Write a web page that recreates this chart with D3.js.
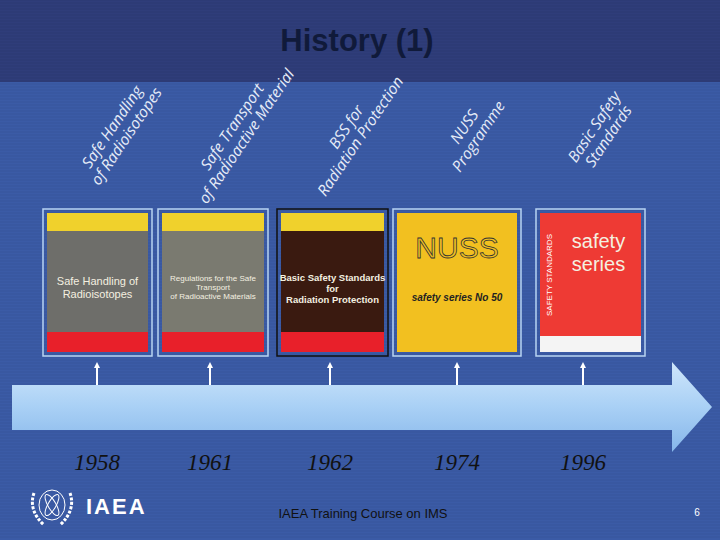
<!DOCTYPE html>
<html><head><meta charset="utf-8">
<script src="https://cdn.jsdelivr.net/npm/d3@7"></script>
<style>body{margin:0}svg{display:block}</style>
</head><body>
<svg width="720" height="540"></svg>
<script>
const years = ['1958', '1961', '1962', '1974', '1996'];
const labels = [
  ['Safe Handling', 'of Radioisotopes'],
  ['Safe Transport', 'of Radioactive Material'],
  ['BSS for', 'Radiation Protection'],
  ['NUSS', 'Programme'],
  ['Basic Safety', 'Standards']
];
const coverTitles = [
  ['Safe Handling of', 'Radioisotopes'],
  ['Regulations for the Safe', 'Transport', 'of Radioactive Materials'],
  ['Basic Safety Standards', 'for', 'Radiation Protection'],
  ['NUSS'],
  ['safety', 'series']
];
const coverBody = ['#6e6e6a', '#7a7a70', '#3a1a10', '#f2c020', '#ee3a34'];

let svg = d3.select('svg');
let defs = svg.append('defs');
let bar = defs.append('linearGradient').attr('id', 'bar').attr('x1', 0).attr('x2', 0).attr('y1', 0).attr('y2', 1);
bar.append('stop').attr('offset', 0).attr('stop-color', '#cfe6fb');
bar.append('stop').attr('offset', 0.5).attr('stop-color', '#a9d0f5');
bar.append('stop').attr('offset', 1).attr('stop-color', '#86b6ea');

svg.append('rect').attr('width', 720).attr('height', 540).attr('fill', '#3b5ba6');
svg.append('rect').attr('width', 720).attr('height', 82).attr('fill', '#2f3d7a');
// stripes
svg.append('g').selectAll('line').data(d3.range(0, 540, 3)).join('line')
  .attr('x1', 0).attr('x2', 720).attr('y1', d => d).attr('y2', d => d)
  .attr('stroke', '#000').attr('stroke-opacity', 0.06);

svg.append('text').attr('x', 357).attr('y', 51).attr('text-anchor', 'middle')
  .attr('font-family', 'Liberation Sans, Arial').attr('font-weight', 'bold')
  .attr('font-size', 31).attr('fill', '#101a3a').text('History (1)');

// timeline slots are not evenly spaced in the slide
let x = d3.scaleOrdinal().domain(years).range([97, 210, 330, 457, 583]);
const lblX = [120, 240, 354, 472, 602];
const bookX = [[47, 148], [162, 264], [281, 384], [397, 517], [540, 641]];

// rotated labels
labels.forEach((l, i) => {
  let g = svg.append('g').attr('transform', `translate(${lblX[i]},${132}) rotate(-56)`);
  g.selectAll('text').data(l).join('text')
    .attr('x', 0).attr('y', (d, j) => j * 17 - 4).attr('text-anchor', 'middle')
    .attr('font-family', 'Open Sans').attr('font-style', 'italic').attr('font-size', 15.5)
    .attr('fill', '#e6ecf8').text(d => d);
});

// books
years.forEach((y, i) => {
  let [x0, x1] = bookX[i], y0 = 213, y1 = 352, w = x1 - x0;
  let g = svg.append('g');
  g.append('rect').attr('x', x0 - 4).attr('y', y0 - 4).attr('width', w + 8).attr('height', y1 - y0 + 8)
    .attr('fill', 'none').attr('stroke', i === 2 ? '#111' : '#b8d4f2').attr('stroke-width', 1.5);
  g.append('rect').attr('x', x0).attr('y', y0).attr('width', w).attr('height', y1 - y0).attr('fill', coverBody[i]);
  if (i < 3) {
    g.append('rect').attr('x', x0).attr('y', y0).attr('width', w).attr('height', 18).attr('fill', '#f0d12c');
    g.append('rect').attr('x', x0).attr('y', y1 - 20).attr('width', w).attr('height', 20).attr('fill', '#e8202a');
  }
  if (i === 4) {
    g.append('rect').attr('x', x0).attr('y', y1 - 16).attr('width', w).attr('height', 16).attr('fill', '#f4f4f4');
  }
  let fs = [11, 8, 9.5, 30, 20][i];
  let ty = [y0 + 72, y0 + 68, y0 + 68, y0 + 45, y0 + 35][i];
  g.selectAll('.ct').data(coverTitles[i]).join('text')
    .attr('x', i === 4 ? x0 + w / 2 + 8 : x0 + w / 2).attr('y', (d, j) => ty + j * fs * 1.15)
    .attr('text-anchor', 'middle').attr('font-family', 'Liberation Sans Narrow, Arial')
    .attr('font-weight', i === 2 ? 'bold' : 'normal')
    .attr('font-size', fs).attr('fill', i === 3 ? 'none' : '#f4f0e0')
    .attr('stroke', i === 3 ? '#333' : 'none').attr('stroke-width', 0.8).text(d => d);
  if (i === 3) {
    g.append('text').attr('x', x0 + w / 2).attr('y', y0 + 88).attr('text-anchor', 'middle')
      .attr('font-family', 'Liberation Sans').attr('font-style', 'italic').attr('font-weight', 'bold')
      .attr('font-size', 10).attr('fill', '#222').text('safety series No 50');
  }
  if (i === 4) {
    g.append('text').attr('transform', `translate(${x0 + 12},${y0 + 62}) rotate(-90)`).attr('text-anchor', 'middle')
      .attr('font-family', 'Liberation Sans').attr('font-size', 8).attr('fill', '#fff').text('SAFETY STANDARDS');
  }
  // pointer
  svg.append('line').attr('x1', x(y)).attr('x2', x(y)).attr('y1', 366).attr('y2', 385)
    .attr('stroke', '#fff').attr('stroke-width', 2);
  svg.append('path').attr('d', `M${x(y) - 3},368L${x(y)},362L${x(y) + 3},368Z`).attr('fill', '#fff');
});

// timeline arrow
svg.append('path').attr('d', 'M12,385H672V362L712,407L672,452V430H12Z').attr('fill', 'url(#bar)');

svg.append('g').selectAll('text').data(years).join('text')
  .attr('x', d => x(d)).attr('y', 470).attr('text-anchor', 'middle')
  .attr('font-family', 'Liberation Serif').attr('font-style', 'italic').attr('font-size', 23)
  .attr('fill', '#111').text(d => d);

// IAEA logo
let logo = svg.append('g').attr('transform', 'translate(52,505)');
logo.append('ellipse').attr('rx', 13).attr('ry', 15).attr('fill', 'none').attr('stroke', '#fff').attr('stroke-width', 1);
logo.append('ellipse').attr('rx', 4).attr('ry', 12).attr('fill', 'none').attr('stroke', '#fff').attr('transform', 'rotate(30)');
logo.append('ellipse').attr('rx', 4).attr('ry', 12).attr('fill', 'none').attr('stroke', '#fff').attr('transform', 'rotate(-30)');
logo.append('path').attr('d', 'M-18,-12Q-24,5-8,20M18,-12Q24,5 8,20').attr('fill', 'none').attr('stroke', '#fff').attr('stroke-width', 3).attr('stroke-dasharray', '3 1.5');
svg.append('text').attr('x', 86).attr('y', 514).attr('font-family', 'Liberation Sans').attr('font-weight', 'bold')
  .attr('font-size', 22).attr('letter-spacing', 2).attr('fill', '#fff').text('IAEA');

svg.append('text').attr('x', 363).attr('y', 518).attr('text-anchor', 'middle').attr('font-family', 'Liberation Sans Narrow, Arial')
  .attr('font-size', 13).attr('fill', '#111').text('IAEA Training Course on IMS');
svg.append('text').attr('x', 697).attr('y', 516).attr('text-anchor', 'middle').attr('font-family', 'Liberation Sans')
  .attr('font-size', 10).attr('fill', '#fff').text('6');
</script>
</body></html>
